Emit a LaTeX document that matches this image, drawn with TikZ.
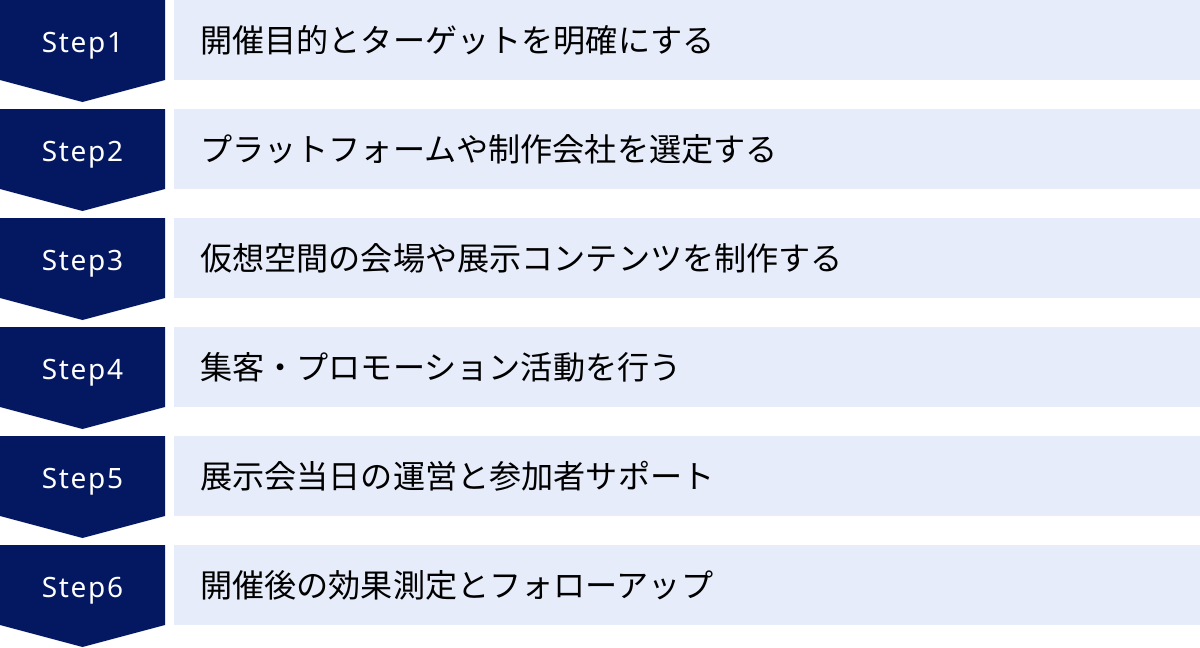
\documentclass[tikz,border=0pt]{standalone}
\usepackage{fontspec}
\newfontfamily\jp{Noto Sans CJK JP}
\newfontfamily\stepfont[LetterSpace=6]{Noto Sans}
\definecolor{navy}{HTML}{041862}
\definecolor{lav}{HTML}{E6ECF9}
\begin{document}
\begin{tikzpicture}[x=0.75pt,y=-0.75pt,
  stepshape/.style={fill=navy,draw=none},
  stepbox/.style={fill=lav,draw=none},
  steplabel/.style={text=white,font=\stepfont\fontsize{21}{21}\selectfont,anchor=base,inner sep=0pt},
  boxtext/.style={text=black,font=\jp\fontsize{24.1}{24}\selectfont,anchor=west,inner sep=0pt}]
\useasboundingbox (0,0) rectangle (1200,647);
\foreach \i/\t in {1/開催目的とターゲットを明確にする,
                   2/プラットフォームや制作会社を選定する,
                   3/仮想空間の会場や展示コンテンツを制作する,
                   4/集客・プロモーション活動を行う,
                   5/展示会当日の運営と参加者サポート,
                   6/開催後の効果測定とフォローアップ}{
  \pgfmathsetmacro\yy{(\i-1)*109}
  \fill[stepshape] (0,\yy) -- (165,\yy) -- (165,\yy+80) -- (82.5,\yy+102) -- (0,\yy+80) -- cycle;
  \fill[stepbox] (174,\yy) rectangle (1200,\yy+80);
  \node[steplabel] (s\i) at (82.5,\yy+52.5) {Step\i};
  \node[boxtext] (t\i) at (200,\yy+40) {\t};
}
\end{tikzpicture}
\end{document}
